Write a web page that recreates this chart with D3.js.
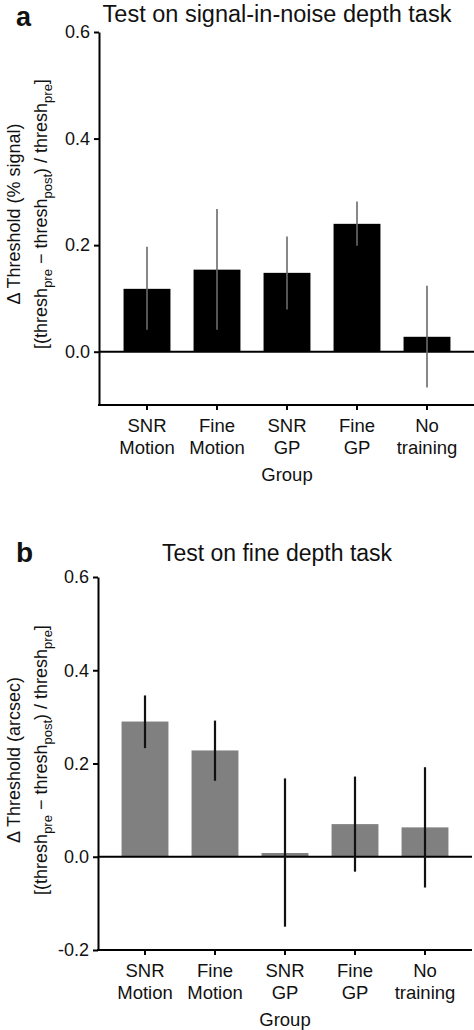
<!DOCTYPE html>
<html>
<head>
<meta charset="utf-8">
<script src="https://cdn.jsdelivr.net/npm/d3@7"></script>
<style>
  html, body { margin: 0; padding: 0; background: #fff; }
  svg { display: block; font-family: "Liberation Sans", Arial, Helvetica, sans-serif; }
</style>
</head>
<body>
<svg id="chart" width="474" height="1030"></svg>
<script>
// ---- Data ----
const categories = ["SNR Motion", "Fine Motion", "SNR GP", "Fine GP", "No training"];

// Panel a: Test on signal-in-noise depth task
const snrMeans = [0.118, 0.154, 0.148, 0.240, 0.028];
const snrLow   = [0.041, 0.041, 0.079, 0.199, -0.067];
const snrHigh  = [0.197, 0.268, 0.216, 0.282, 0.124];
const snrTicks = [0.0, 0.2, 0.4, 0.6];

// Panel b: Test on fine depth task
const fineMeans = [0.290, 0.228, 0.008, 0.070, 0.063];
const fineLow   = [0.233, 0.163, -0.150, -0.032, -0.066];
const fineHigh  = [0.346, 0.292, 0.168, 0.172, 0.192];
const fineTicks = [-0.2, 0.0, 0.2, 0.4, 0.6];

const titles = ["Test on signal-in-noise depth task", "Test on fine depth task"];
const letters = ["a", "b"];
const yLabels1 = ["\u0394 Threshold (% signal)", "\u0394 Threshold (arcsec)"];
const xLabel = "Group";

// ---- Layout ----
const panels = [
  { letter: letters[0], title: titles[0], ylab: yLabels1[0],
    means: snrMeans, low: snrLow, high: snrHigh, ticks: snrTicks,
    domain: [-0.1, 0.6], yRange: [405, 32], xRange: [112, 462], axisX: 99, axisEnd: 474,
    barColor: "#000", errColor: "#6a6a6a", errWidth: 1.6,
    titleY: 22, titleSize: 23.5, letterY: 26, letterSize: 27, labelCenter: 214 },
  { letter: letters[1], title: titles[1], ylab: yLabels1[1],
    means: fineMeans, low: fineLow, high: fineHigh, ticks: fineTicks,
    domain: [-0.2, 0.6], yRange: [950, 577], xRange: [110, 460], axisX: 98, axisEnd: 472,
    barColor: "#808080", errColor: "#111", errWidth: 2.2,
    titleY: 561, titleSize: 23, letterY: 562, letterSize: 28, labelCenter: 760 }
];

const fmt = d3.formatLocale({decimal: ".", thousands: ",", grouping: [3], currency: ["", ""], minus: "-"}).format(".1f");
const svg = d3.select("#chart");
const textColor = "#111";

panels.forEach(p => {
  const g = svg.append("g");
  const y = d3.scaleLinear().domain(p.domain).range(p.yRange);
  const x = d3.scaleBand().domain(categories).range(p.xRange).paddingInner(0.33).paddingOuter(0.165);

  // bars
  g.selectAll("rect.bar").data(categories).join("rect")
    .attr("class", "bar")
    .attr("x", d => x(d))
    .attr("width", x.bandwidth())
    .attr("y", (d, i) => Math.min(y(p.means[i]), y(0)))
    .attr("height", (d, i) => Math.abs(y(p.means[i]) - y(0)))
    .attr("fill", p.barColor);

  // zero line
  g.append("line")
    .attr("x1", p.axisX).attr("x2", p.axisEnd)
    .attr("y1", y(0)).attr("y2", y(0))
    .attr("stroke", "#000").attr("stroke-width", 2);

  // error bars
  g.selectAll("line.err").data(categories).join("line")
    .attr("class", "err")
    .attr("x1", d => x(d) + x.bandwidth() / 2)
    .attr("x2", d => x(d) + x.bandwidth() / 2)
    .attr("y1", (d, i) => y(p.low[i]))
    .attr("y2", (d, i) => y(p.high[i]))
    .attr("stroke", p.errColor).attr("stroke-width", p.errWidth);

  // y axis
  const yAxis = g.append("g")
    .attr("transform", `translate(${p.axisX},0)`)
    .call(d3.axisLeft(y).tickValues(p.ticks).tickFormat(fmt).tickSize(5).tickSizeOuter(0).tickPadding(4));
  yAxis.select(".domain").attr("stroke-width", 2).attr("stroke", "#000");
  yAxis.selectAll(".tick line").attr("stroke-width", 2).attr("stroke", "#000");
  yAxis.selectAll(".tick text").attr("font-size", 18).attr("fill", textColor)
    .attr("font-family", "Liberation Sans, Arial, sans-serif");

  // x axis
  const xb = p.yRange[0];
  const xAxis = g.append("g")
    .attr("transform", `translate(0,${xb})`)
    .call(d3.axisBottom(x).tickSize(5).tickSizeOuter(0).tickFormat(""));
  xAxis.select(".domain").remove();
  xAxis.selectAll(".tick line").attr("stroke-width", 2).attr("stroke", "#000");
  g.append("line")
    .attr("x1", p.axisX - 1).attr("x2", p.axisEnd)
    .attr("y1", xb).attr("y2", xb)
    .attr("stroke", "#000").attr("stroke-width", 2);

  // category labels (two lines)
  categories.forEach(c => {
    const parts = c.split(" ");
    const t = g.append("text")
      .attr("text-anchor", "middle")
      .attr("font-size", 18.5).attr("fill", textColor);
    parts.forEach((s, k) => {
      t.append("tspan")
        .attr("x", x(c) + x.bandwidth() / 2)
        .attr("y", xb + 27 + k * 22)
        .text(s);
    });
  });

  // x label
  g.append("text")
    .attr("x", (p.xRange[0] + p.xRange[1]) / 2)
    .attr("y", xb + 76)
    .attr("text-anchor", "middle")
    .attr("font-size", 18.5).attr("fill", textColor)
    .text(xLabel);

  // title
  g.append("text")
    .attr("x", 277)
    .attr("y", p.titleY)
    .attr("text-anchor", "middle")
    .attr("font-size", p.titleSize).attr("fill", textColor)
    .text(p.title);

  // panel letter
  g.append("text")
    .attr("x", 16)
    .attr("y", p.letterY)
    .attr("font-size", p.letterSize).attr("font-weight", "bold").attr("fill", textColor)
    .text(p.letter);

  // y label line 1
  g.append("text")
    .attr("transform", `translate(20,${p.labelCenter}) rotate(-90)`)
    .attr("text-anchor", "middle")
    .attr("font-size", 18).attr("fill", textColor)
    .text(p.ylab);

  // y label line 2 with subscripts
  const l2 = g.append("text")
    .attr("transform", `translate(47,${p.labelCenter}) rotate(-90)`)
    .attr("text-anchor", "middle")
    .attr("font-size", 18).attr("fill", textColor);
  const pieces = [
    ["[(thresh", false], ["pre", true], [" \u2212 thresh", false], ["post", true],
    [") / thresh", false], ["pre", true], ["]", false]
  ];
  let sub = false;
  pieces.forEach(([s, isSub]) => {
    const ts = l2.append("tspan").text(s);
    if (isSub && !sub) { ts.attr("dy", 5).attr("font-size", 13); sub = true; }
    else if (isSub) { ts.attr("font-size", 13); }
    else if (!isSub && sub) { ts.attr("dy", -5); sub = false; }
  });
});
</script>
</body>
</html>
